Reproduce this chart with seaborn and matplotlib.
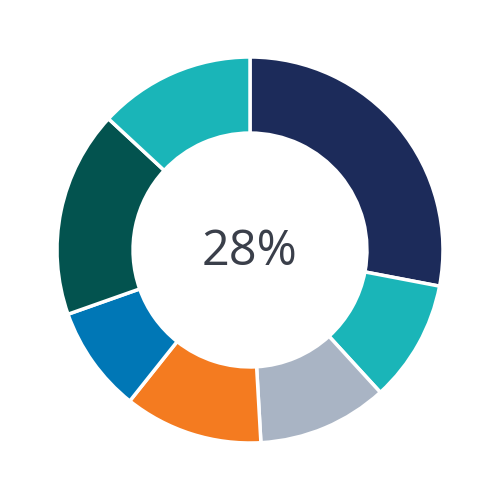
import seaborn as sns
import matplotlib.pyplot as plt

# slice shares, clockwise from 12 o'clock
shares = [28, 10.2, 10.9, 11.6, 8.9, 17.3, 13.1]
colors = ["#1c2b5a", "#1ab5b8", "#a9b4c4", "#f47b20", "#0077b6", "#03534f", "#1ab5b8"]
center_label = "28%"

sns.set_theme(style="white")
plt.rcParams['font.family'] = ['Open Sans', 'DejaVu Sans']

fig = plt.figure(figsize=(5, 5), dpi=100)
ax = fig.add_axes([0, 0, 1, 1])

ax.pie(shares, colors=sns.color_palette(colors), startangle=90, counterclock=False,
       radius=1.0, wedgeprops=dict(width=0.394, edgecolor="white", linewidth=2.5))
ax.text(0, -0.01, center_label, ha="center", va="center", fontsize=35, color="#3a3f4a")

lim = 250 / 193
ax.set_xlim(-lim, lim)
ax.set_ylim(-lim, lim)
ax.set_aspect("equal")
ax.axis("off")

fig.savefig("out.png", dpi=100, facecolor="white")
